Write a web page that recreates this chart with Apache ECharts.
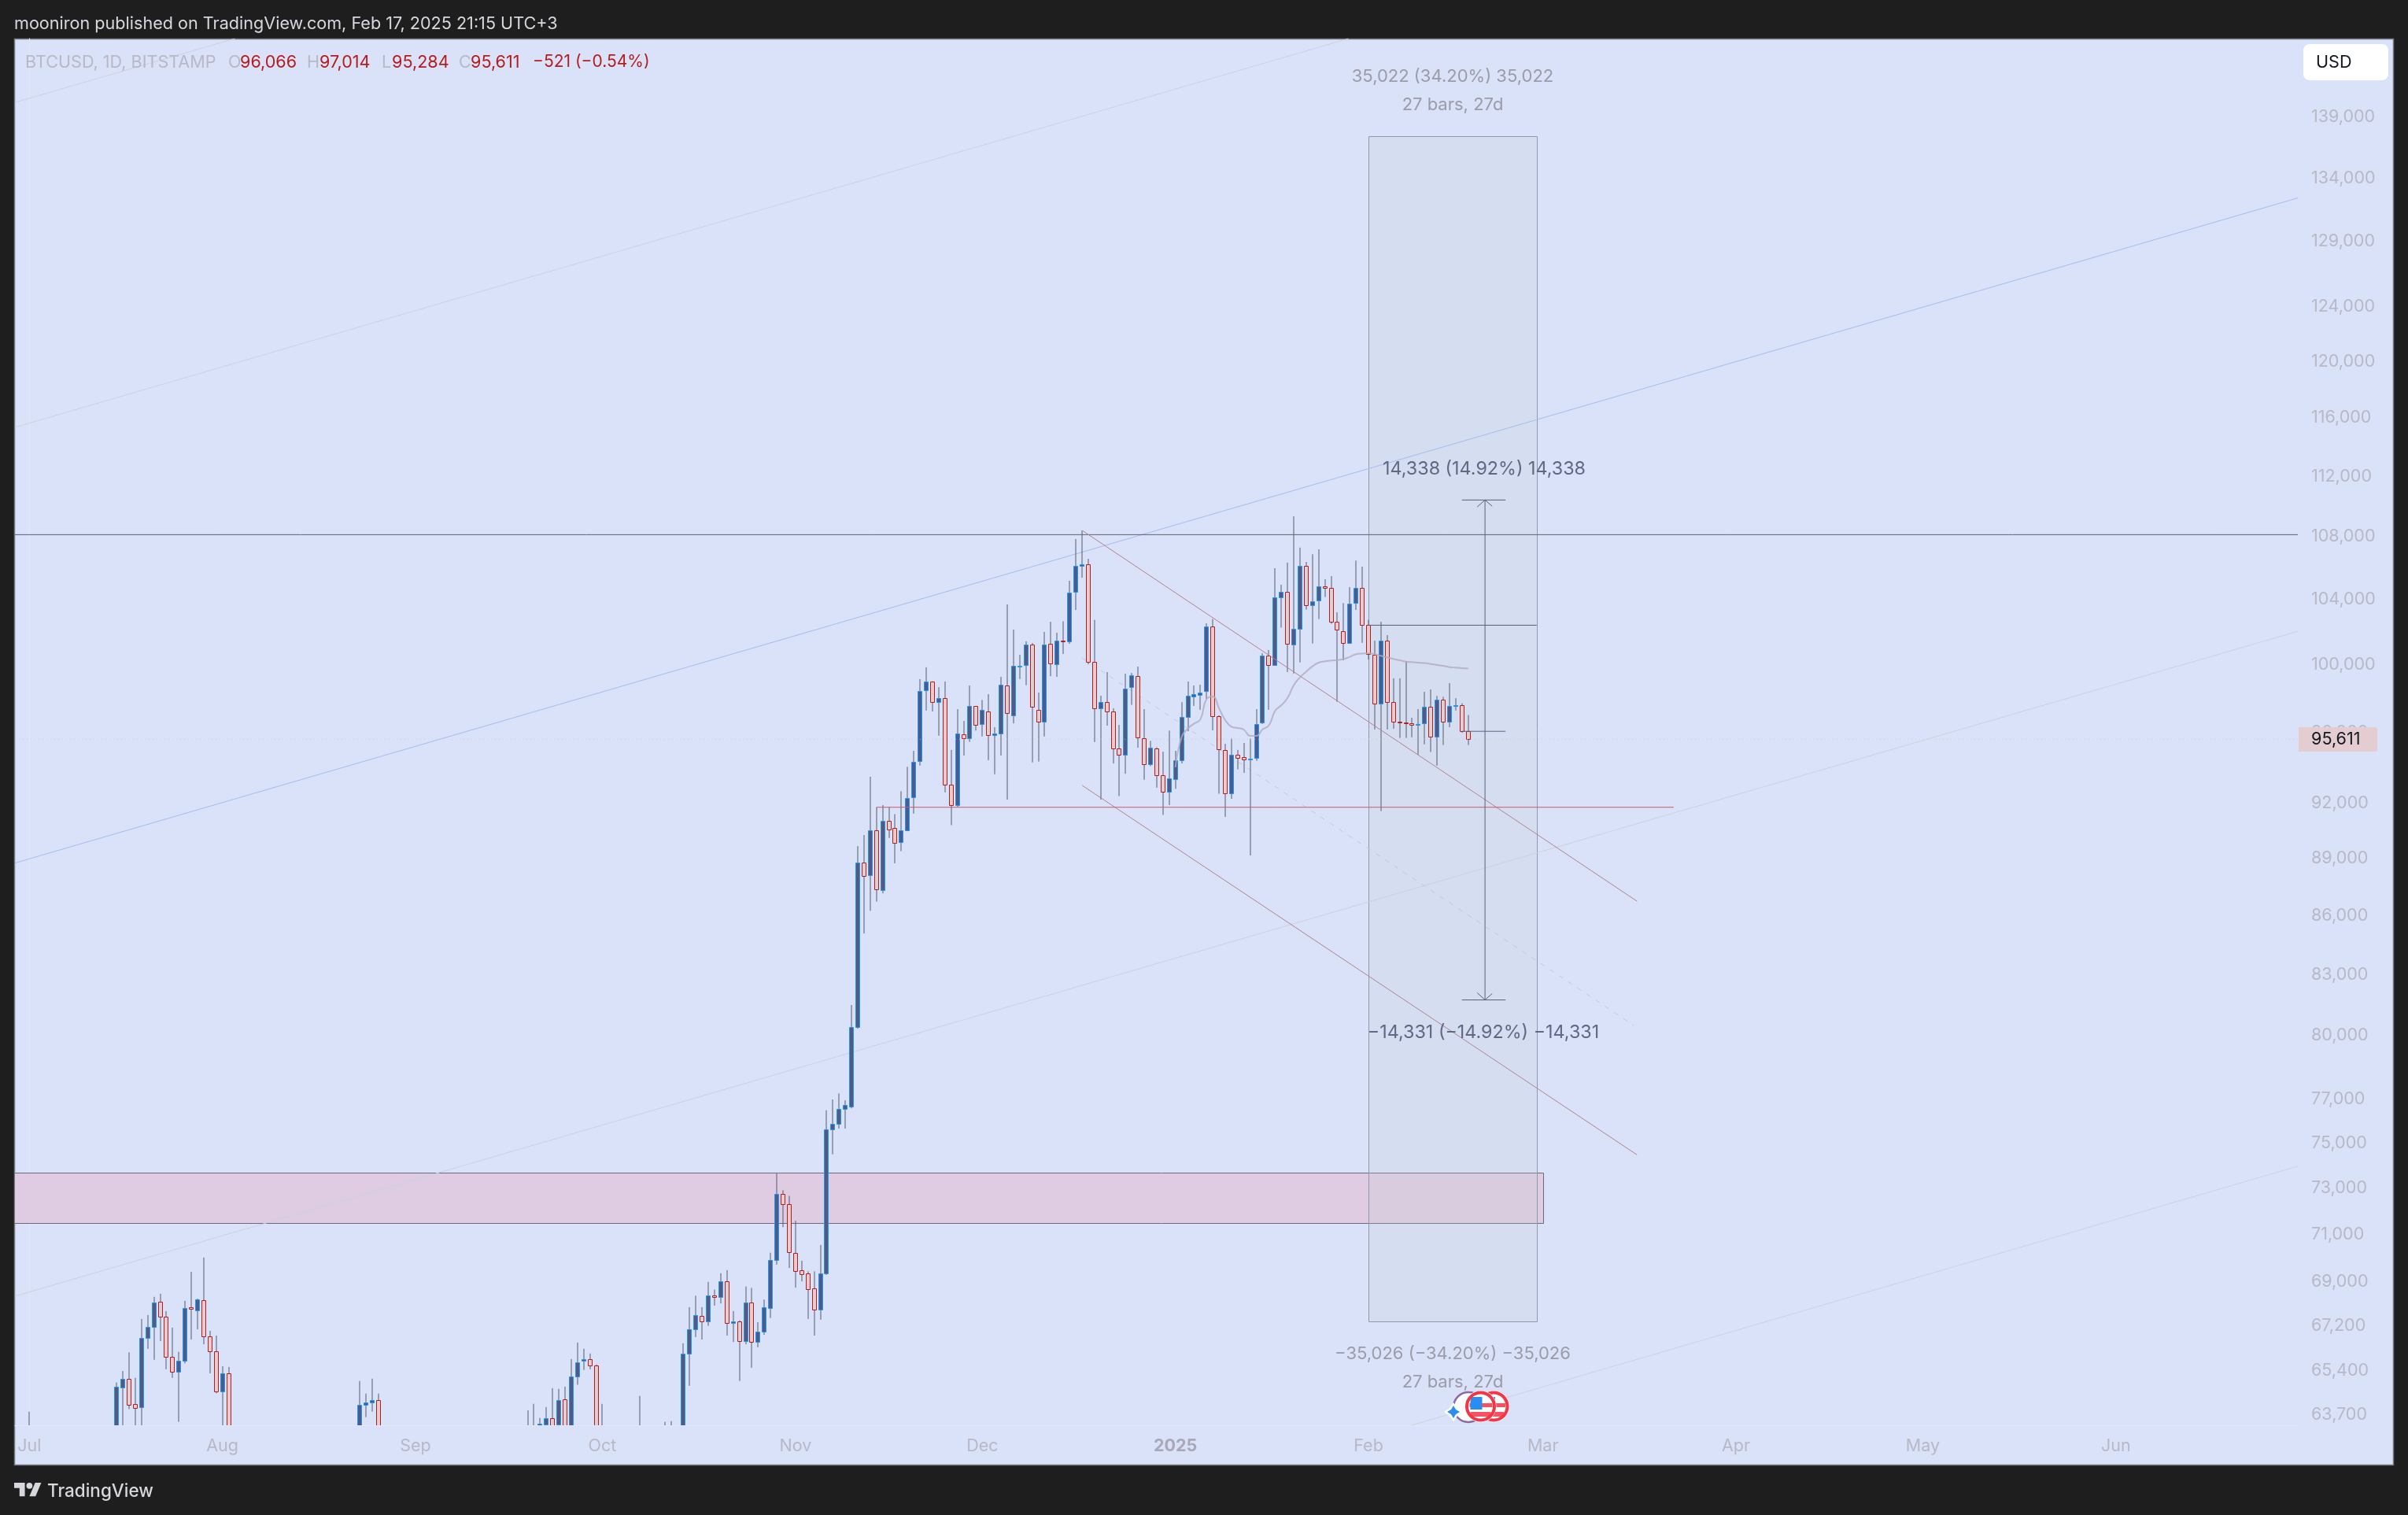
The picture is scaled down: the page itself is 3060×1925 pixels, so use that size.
<!DOCTYPE html>
<html>
<head>
<meta charset="utf-8">
<title>BTCUSD 1D</title>
<style>
html, body { margin: 0; padding: 0; background: #1e1e1e; }
#chart { width: 3060px; height: 1925px; }
</style>
<script src="https://cdn.jsdelivr.net/npm/echarts@6/dist/echarts.min.js"></script>
</head>
<body>
<div id="chart"></div>
<script>
// day number counts from 1 Jul 2024, one candle per day, null = below the visible scale
var opens = [62700,null,null,null,null,null,null,null,null,null,null,null,null,null,
	60800,64740,65080,64100,63980,66700,67140,68170,67550,65940,65360,65780,67940,67810,68230,66760,66160,64590,65300,
	null,null,null,null,null,null,null,null,null,null,null,null,null,null,null,null,null,null,null,null,
	60400,64060,64150,64250,
	null,null,null,null,null,null,null,null,null,null,null,null,null,null,null,null,null,null,null,null,null,null,null,
	62700,62800,63000,63310,63560,63310,64280,63000,65160,65790,65850,65600,63300,
	null,null,null,null,null,62200,null,null,null,62700,62900,null,
	62800,66070,67040,67590,67380,68430,68350,69010,67320,67370,66590,68130,66550,66950,67930,69900,72730,72300,70190,69460,
	69330,68720,67840,69360,75630,75880,76540,76680,80400,88760,88090,90530,87330,91050,90630,89860,90530,92350,94360,98460,
	99000,97770,98020,93030,91900,95910,95660,97530,96480,97240,95840,95930,98740,97010,99900,99960,101200,97300,96650,101250,
	100010,101440,101390,104460,106100,106200,100150,97390,97770,97240,95090,94730,98650,99330,95660,94170,95100,93560,92640,93330,
	94400,96890,98120,98210,98420,102300,96940,94990,92540,94720,94600,94470,94540,96570,100530,99960,104120,104460,101200,102160,
	106140,103660,103920,104840,104730,102600,102040,101290,103770,104730,102400,100610,97670,101440,97790,96610,96580,96520,96460,96520,
	97480,95760,97900,96610,97530,97580,96066];
var highs = [63810,null,null,null,null,null,null,null,null,null,null,null,null,null,
	64940,65390,66130,65120,67470,67630,68370,68500,67790,67120,66150,68210,69410,68300,70010,66990,66800,65580,65550,
	null,null,null,null,null,null,null,null,null,null,null,null,null,null,null,null,null,null,null,null,
	65000,64510,65090,64510,
	null,null,null,null,null,null,null,null,null,null,null,null,null,null,null,null,null,null,null,null,null,null,null,
	63860,64110,63570,63990,64720,64690,64780,65860,66520,66270,66080,65650,64110,
	null,null,null,null,null,64420,null,null,null,63420,63450,null,
	66490,67950,68420,67950,68990,68670,69350,69480,67790,67410,68800,68740,67340,68260,70210,73630,72900,72650,71570,69870,
	69430,69430,70540,76490,76990,77270,76950,81490,89660,90260,93480,91780,91900,91780,91400,92670,94040,94950,99130,99840,
	99000,98650,98990,95000,97360,96670,98750,97530,97900,98240,96310,99270,103690,102130,100590,101410,101310,98330,101990,102610,
	101940,102640,105170,107850,108400,106570,102730,98150,99550,97410,96440,99460,99500,99880,97360,95520,95150,94900,96110,94950,
	97770,98990,98750,98800,102520,102780,97000,95350,95650,95000,95400,95650,97360,100690,100880,105970,104920,106330,109330,107290,
	106370,106870,107180,105270,105470,103200,103770,104770,106460,106070,102730,101450,102610,101790,99180,99180,100210,96860,97360,98380,
	98520,98130,98080,98900,98000,97700,97014];
var lows = [62500,null,null,null,null,null,null,null,null,null,null,null,null,null,
	60640,62500,63910,63000,63000,66270,65830,66580,65460,65120,63420,65690,66640,67050,66450,65300,64520,62300,61200,
	null,null,null,null,null,null,null,null,null,null,null,null,null,null,null,null,null,null,null,null,
	60300,63600,63810,62700,
	null,null,null,null,null,null,null,null,null,null,null,null,null,null,null,null,null,null,null,null,null,null,null,
	62500,62600,62800,62900,62900,62900,62600,62800,64850,65430,65460,62900,60200,
	null,null,null,null,null,62100,null,null,null,62400,62700,null,
	62500,64810,66740,66640,67190,68010,68100,66800,66540,65000,66450,65520,66330,66830,67510,69710,71300,69570,68750,69010,
	67470,66800,67440,69280,74490,75650,75650,76580,80340,85070,86240,86720,87150,90100,88740,89390,90470,91430,94110,97280,
	97220,95820,92610,90800,91800,94680,95460,96110,95770,94420,93620,94680,92200,96530,99140,98770,94290,94340,95770,99310,
	99270,100640,101260,103340,105370,100020,95450,92200,96400,94230,92400,93650,97610,95130,93310,94080,92870,91360,91900,92800,
	94230,96080,97550,97320,97950,96120,92530,91250,92250,93900,93700,89160,94380,96490,97320,99930,102250,99560,99470,100130,
	103360,101280,102780,104150,102480,97790,100260,101290,103340,101320,100310,96180,91570,96180,96220,95690,95690,95730,94730,95320,
	94880,94110,95280,96310,97280,95990,95284];
var closes = [63000,null,null,null,null,null,null,null,null,null,null,null,null,null,
	64770,65080,64060,63950,66700,67140,68130,67550,65940,65360,65780,67910,67880,68260,66760,66160,64590,65300,61400,
	null,null,null,null,null,null,null,null,null,null,null,null,null,null,null,null,null,null,null,null,
	64070,64160,64250,62900,
	null,null,null,null,null,null,null,null,null,null,null,null,null,null,null,null,null,null,null,null,null,null,null,
	62900,63000,63340,63560,63290,64250,62800,65160,65740,65850,65600,63300,60800,
	null,null,null,null,null,62800,null,null,null,63000,62900,null,
	66070,67040,67620,67380,68430,68350,69010,67320,67370,66590,68130,66550,66950,67940,69900,72730,72300,70220,69450,69300,
	68700,67840,69360,75630,75880,76540,76720,80400,88760,88060,90530,87370,91050,90580,89840,90530,92300,94340,98440,99000,
	97770,97990,93030,91900,95960,95660,97530,96430,97300,95840,95930,98790,97130,99910,99910,101200,97480,96650,101200,100060,
	101440,101390,104410,106100,106200,100150,97390,97770,97210,95090,94730,98580,99370,95700,94170,95150,93560,92640,93370,94400,
	96890,98130,98240,98330,102300,96940,95060,92540,94720,94560,94470,94510,96490,100530,99960,104120,104460,101250,102160,106140,
	103620,103900,104840,104730,102600,102110,101290,103750,104730,102400,100640,97670,101440,97790,96610,96590,96550,96460,96490,97480,
	95760,97900,96610,97530,97580,96070,95611];

// moving average on the last stretch, starts on day 184
var maStart = 184;
var maValues = [94010,95730,96230,96520,96760,97950,98100,97410,96720,96340,96260,96160,95810,95810,96180,96410,97260,97590,98020,98770,
	99240,99580,99900,100120,100200,100250,100270,100340,100470,100630,100670,100690,100630,100530,100440,100340,100260,100180,100150,100120,
	100090,100040,99980,99930,99850,99820,99790,99770];

var priceTicks = [139000,134000,129000,124000,120000,116000,112000,108000,104000,100000,96000,92000,89000,86000,83000,80000,77000,75000,73000,71000,69000,67200,65400,63700];
var monthDays = [0,31,62,92,123,153,184,215,243,274,304,335];
var monthNames = ['Jul','Aug','Sep','Oct','Nov','Dec','2025','Feb','Mar','Apr','May','Jun'];
var lastClose = 95611;

// scale ends
var dayMin = -2.31, dayMax = 364.2;
var priceMin = 63290, priceMax = 145720;

// drawings, [day, price] pairs
var resistanceLine = [[dayMin,108130],[dayMax,108130]];
var blueTrend = [[dayMin,88755],[dayMax,132400]];
var grayTrendA = [[dayMin,140230],[33,priceMax]];
var grayTrendB = [[dayMin,115340],[211.8,priceMax]];
var grayTrendC = [[dayMin,68400],[dayMax,102030]];
var grayTrendD = [[221.9,priceMin],[dayMax,73960]];
var channelTop = [[169.05,108400],[258.1,86740]];
var channelBottom = [[169.05,92990],[258.1,74470]];
var channelMiddle = [[169.05,100400],[257.6,80490]];
var supportLine = [[136,91780],[264,91780]];
var boxMidLine = [[215,102400],[242,102400]];
var fibStub = [[230,96070],[237,96070]];
var rangeStem = [[233.7,110408],[233.7,81739]];
var rangeCapTop = [[230,110408],[237,110408]];
var rangeCapBottom = [[230,81739],[237,81739]];
var arrowTop = [[232.45,109950],[233.7,110408],[234.85,110000]];
var arrowBottom = [[232.45,82090],[233.7,81739],[234.85,82050]];
var lastPriceLine = [[dayMin,lastClose],[dayMax,lastClose]];

// rectangles, [day from, day to, price top, price bottom]
var demandZone = [[dayMin - 2,243,73660,71470]];
var measureBox = [[215,242,137422,67374]];

var bgColor = '#d9e2f8';
var axisText = '#b9b8c6';
var fontName = 'Inter, "Noto Sans", sans-serif';

function candleData() {
	var out = [];
	for (var i = 0; i < opens.length; i++) {
		if (opens[i] !== null) {
			out.push([i, opens[i], highs[i], lows[i], closes[i]]);
		}
	}
	return out;
}

function renderCandle(params, api) {
	var day = api.value(0), open = api.value(1), high = api.value(2), low = api.value(3), close = api.value(4);
	var up = close >= open;
	var cx = api.coord([day, open])[0];
	var left = Math.round(cx - 3) + 0.5;
	var yTop = Math.round(api.coord([day, Math.max(open, close)])[1]) + 0.5;
	var yBot = Math.round(api.coord([day, Math.min(open, close)])[1]) + 0.5;
	var yHigh = api.coord([day, high])[1];
	var yLow = api.coord([day, low])[1];
	return {
		type: 'group',
		children: [{
			type: 'line',
			shape: { x1: left + 2.5, y1: yHigh, x2: left + 2.5, y2: yLow },
			style: { stroke: '#555b6b', lineWidth: 1 }
		}, {
			type: 'rect',
			shape: { x: left, y: yTop, width: 5, height: yBot - yTop },
			style: { fill: up ? '#4f5a87' : '#e3cdd0', stroke: up ? '#2196f3' : '#b71c1c', lineWidth: 1 }
		}]
	};
}

function rectSeries(rows, z, fill, stroke) {
	return {
		type: 'custom',
		z: z,
		silent: true,
		clip: true,
		data: rows,
		encode: { x: [0, 1], y: [2, 3] },
		renderItem: function(params, api) {
			var a = api.coord([api.value(0), api.value(2)]);
			var b = api.coord([api.value(1), api.value(3)]);
			return {
				type: 'rect',
				shape: { x: Math.round(a[0]) + 0.5, y: Math.round(a[1]) + 0.5, width: Math.round(b[0] - a[0]), height: Math.round(b[1] - a[1]) },
				style: { fill: fill, stroke: stroke, lineWidth: 1 }
			};
		}
	};
}

function lineSeries(points, color, width, z, dash) {
	return {
		type: 'line',
		data: points,
		z: z,
		silent: true,
		symbol: 'none',
		lineStyle: { color: color, width: width, type: dash || 'solid' }
	};
}

function maPoints() {
	var out = [];
	for (var i = 0; i < maValues.length; i++) {
		out.push([maStart + i, maValues[i]]);
	}
	return out;
}

function chartText(x, y, text, color, extra) {
	var style = { x: x, y: y, text: text, fill: color, font: '21.6px ' + fontName, textAlign: 'left', textVerticalAlign: 'middle' };
	for (var k in extra) {
		style[k] = extra[k];
	}
	return { type: 'text', z: 20, silent: true, style: style };
}

function noteText(x, y, text, color, size) {
	return chartText(x, y, text, color, { textAlign: 'center', font: (size || 22) + 'px ' + fontName });
}

function flagIcon(cx, cy, z) {
	return {
		type: 'group',
		z: z,
		silent: true,
		children: [
			{ type: 'circle', shape: { cx: cx, cy: cy, r: 20 }, style: { fill: '#ffffff' }, z: z },
			{ type: 'rect', shape: { x: cx - 14, y: cy - 4, width: 29, height: 5 }, style: { fill: '#f7525f' }, z: z },
			{ type: 'rect', shape: { x: cx - 13, y: cy + 7, width: 26, height: 6 }, style: { fill: '#f7525f' }, z: z },
			{ type: 'rect', shape: { x: cx - 13, y: cy - 12, width: 15, height: 16 }, style: { fill: '#2a8df0' }, z: z },
			{ type: 'circle', shape: { cx: cx, cy: cy, r: 17.5 }, style: { fill: 'none', stroke: '#f23645', lineWidth: 4 }, z: z }
		]
	};
}

function starPoints(cx, cy, outer, inner) {
	return [[cx,cy-outer],[cx+inner,cy-inner],[cx+outer,cy],[cx+inner,cy+inner],[cx,cy+outer],[cx-inner,cy+inner],[cx-outer,cy],[cx-inner,cy-inner]];
}

// logo outline comes from the 36x28 TradingView mark
function logoPoints(raw) {
	return raw.map(function(p) {
		return [18 + p[0] * 0.97, 1880 + p[1] * 0.97];
	});
}

var chart = echarts.init(document.getElementById('chart'));

chart.setOption({
	animation: false,
	backgroundColor: '#1e1e1e',
	textStyle: { fontFamily: fontName },
	grid: { left: 19, top: 49, width: 2901, height: 1762 },
	xAxis: {
		type: 'value',
		min: dayMin,
		max: dayMax,
		splitLine: { show: false },
		axisTick: { show: false },
		axisLine: { show: true, lineStyle: { color: '#e2e8fa', width: 1 } },
		axisLabel: {
			customValues: monthDays,
			color: axisText,
			fontSize: 21.5,
			margin: 16,
			formatter: function(val) {
				var name = monthNames[monthDays.indexOf(Math.round(val))];
				return name === '2025' ? '{b|2025}' : name;
			},
			rich: { b: { color: '#a9a8b8', fontSize: 21.5, fontWeight: 'bold', fontFamily: fontName } }
		}
	},
	yAxis: {
		type: 'log',
		position: 'right',
		min: priceMin,
		max: priceMax,
		splitLine: { show: false },
		minorSplitLine: { show: false },
		axisTick: { show: false },
		axisLine: { show: true, lineStyle: { color: '#e2e8fa', width: 1 } },
		axisLabel: {
			customValues: priceTicks,
			color: axisText,
			fontSize: 21.5,
			margin: 17,
			padding: [0, 0, 5, 0],
			formatter: function(val) {
				return Math.round(val).toLocaleString('en-US');
			}
		}
	},
	series: [
		rectSeries(demandZone, 1, '#dfcce2', '#6b6a7a'),
		rectSeries(measureBox, 1, 'rgba(201,206,216,0.2)', '#9298ac'),
		{
			type: 'custom',
			z: 3,
			silent: true,
			clip: true,
			data: candleData(),
			encode: { x: 0, y: [1, 2, 3, 4] },
			renderItem: renderCandle
		},
		lineSeries(grayTrendA, '#ccd1df', 1, 2),
		lineSeries(grayTrendB, '#ccd1df', 1, 2),
		lineSeries(grayTrendC, '#ccd1df', 1, 2),
		lineSeries(grayTrendD, '#ccd1df', 1, 2),
		lineSeries(blueTrend, '#a4bdf2', 1, 2),
		lineSeries(resistanceLine, '#5a6070', 1, 4),
		lineSeries(channelTop, '#b8808f', 1, 4),
		lineSeries(channelBottom, '#b8808f', 1, 4),
		lineSeries(channelMiddle, '#c3c8d8', 1, 2, [6, 8]),
		lineSeries(supportLine, '#d0586a', 1, 4),
		lineSeries(boxMidLine, '#5a6070', 1, 4),
		lineSeries(fibStub, '#5b6585', 1, 4),
		lineSeries(rangeStem, '#58607a', 1, 4),
		lineSeries(rangeCapTop, '#58607a', 1, 4),
		lineSeries(rangeCapBottom, '#58607a', 1, 4),
		lineSeries(arrowTop, '#58607a', 1, 4),
		lineSeries(arrowBottom, '#58607a', 1, 4),
		lineSeries(lastPriceLine, 'rgba(226,190,190,0.75)', 1, 4, [1, 4]),
		{
			type: 'line',
			data: maPoints(),
			z: 4,
			silent: true,
			smooth: true,
			symbol: 'none',
			lineStyle: { color: 'rgba(178,170,190,0.8)', width: 2 }
		}
	],
	graphic: [
		// chart panel
		{ type: 'rect', z: -10, silent: true, shape: { x: 18.5, y: 49.5, width: 3023, height: 1812 }, style: { fill: bgColor, stroke: '#74777f', lineWidth: 1.5 } },
		// header and legend
		chartText(18, 30, 'mooniron published on TradingView.com, Feb 17, 2025 21:15 UTC+3', '#d6d8de'),
		chartText(32, 79, 'BTCUSD, 1D, BITSTAMP', axisText),
		chartText(290, 79, 'O', axisText),
		chartText(305, 79, '96,066', '#b71c1c'),
		chartText(390, 79, 'H', axisText),
		chartText(406, 79, '97,014', '#b71c1c'),
		chartText(485, 79, 'L', axisText),
		chartText(498, 79, '95,284', '#b71c1c'),
		chartText(583, 79, 'C', axisText),
		chartText(598, 79, '95,611', '#b71c1c'),
		chartText(677, 79, '\u2212521 (\u22120.54%)', '#b71c1c', { font: '21px ' + fontName }),
		// currency button
		{ type: 'rect', z: 20, silent: true, shape: { x: 2927, y: 56, width: 108, height: 46, r: 8 }, style: { fill: '#ffffff' } },
		chartText(2943, 79.5, 'USD', '#131722'),
		// last price tag
		{ type: 'rect', z: 20, silent: true, shape: { x: 2921, y: 924, width: 100, height: 31, r: [0, 3, 3, 0] }, style: { fill: '#e3cdd0' } },
		chartText(2937, 939, '95,611', '#131722'),
		// measurement labels
		noteText(1846, 97, '35,022 (34.20%) 35,022', '#9c9ba8'),
		noteText(1846, 133, '27 bars, 27d', '#9c9ba8'),
		noteText(1886, 596, '14,338 (14.92%) 14,338', '#5f6884', 23.3),
		noteText(1885, 1312, '\u221214,331 (\u221214.92%) \u221214,331', '#5f6884', 23.3),
		noteText(1846, 1720, '\u221235,026 (\u221234.20%) \u221235,026', '#9c9ba8'),
		noteText(1846, 1756, '27 bars, 27d', '#9c9ba8'),
		// event markers
		{ type: 'circle', z: 21, silent: true, shape: { cx: 1866, cy: 1788, r: 19 }, style: { fill: '#ffffff', stroke: '#8a6aa0', lineWidth: 2.5 } },
		flagIcon(1898, 1787, 22),
		flagIcon(1881.5, 1787, 23),
		{ type: 'polygon', z: 24, silent: true, shape: { points: starPoints(1847, 1794, 12, 5) }, style: { fill: '#ffffff' } },
		{ type: 'polygon', z: 25, silent: true, shape: { points: starPoints(1847, 1794, 8, 3) }, style: { fill: '#2a8df0' } },
		// footer logo
		{ type: 'polygon', z: 20, silent: true, shape: { points: logoPoints([[14,22],[7,22],[7,11],[0,11],[0,4],[14,4]]) }, style: { fill: '#d6d8de' } },
		{ type: 'polygon', z: 20, silent: true, shape: { points: logoPoints([[28,22],[20,22],[27.5,4],[35.5,4]]) }, style: { fill: '#d6d8de' } },
		{ type: 'circle', z: 20, silent: true, shape: { cx: 37.4, cy: 1887.8, r: 3.9 }, style: { fill: '#d6d8de' } },
		chartText(60, 1895, 'TradingView', '#d6d8de', { font: '500 22.5px ' + fontName })
	]
});
</script>
</body>
</html>
